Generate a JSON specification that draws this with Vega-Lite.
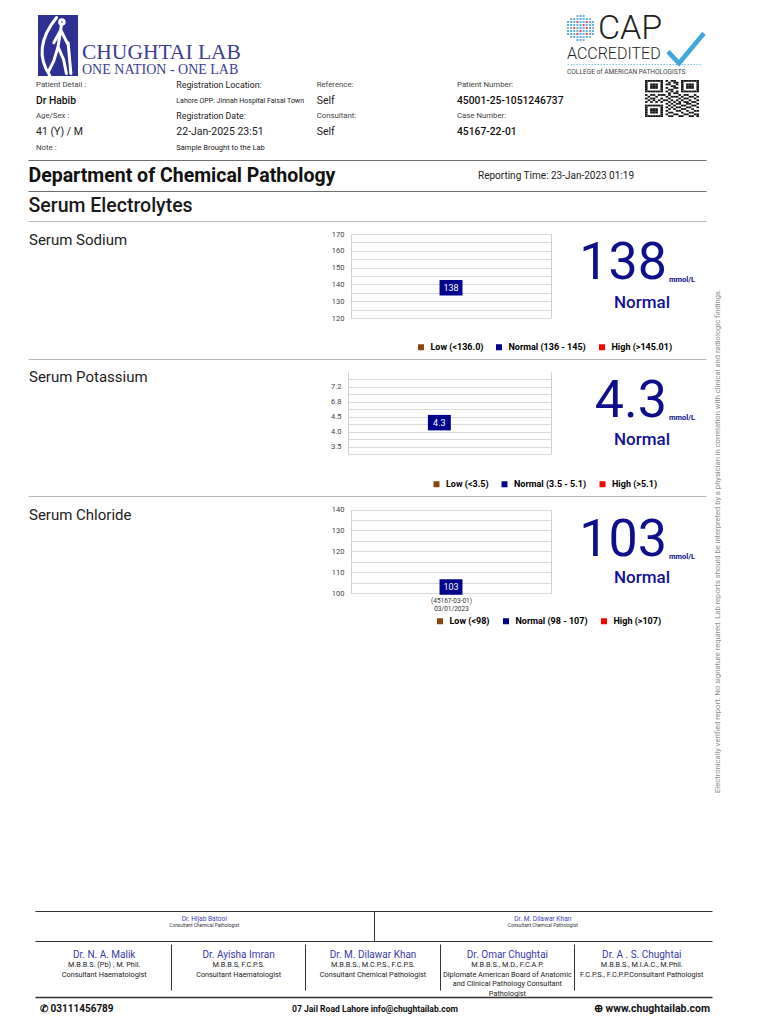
{
"$schema": "https://vega.github.io/schema/vega-lite/v6.json",
"width": 768, "height": 1024, "padding": 0,
"autosize": {"type": "none"},
"background": "white",
"config": {"font": "Roboto", "view": {"stroke": null}, "text": {"font": "Roboto"}, "scale": {"pointPadding": 0}, "axis": {"labelFont": "Roboto"}, "legend": {"labelFont": "Roboto"}},
"datasets": {
 "results": [
  {"test": "Serum Sodium", "sample": "(45167-03-01)|03/01/2023", "value": 138, "unit": "mmol/L", "status": "Normal", "band": "Normal (136 - 145)"},
  {"test": "Serum Potassium", "sample": "(45167-03-01)|03/01/2023", "value": 4.3, "unit": "mmol/L", "status": "Normal", "band": "Normal (3.5 - 5.1)"},
  {"test": "Serum Chloride", "sample": "(45167-03-01)|03/01/2023", "value": 103, "unit": "mmol/L", "status": "Normal", "band": "Normal (98 - 107)"}
 ],
 "doctors": [
  {"doc": "Dr. N. A. Malik", "line": 1, "t": "Dr. N. A. Malik"},
  {"doc": "Dr. N. A. Malik", "line": 2, "t": "M.B.B.S. (Pb) , M. Phil."},
  {"doc": "Dr. N. A. Malik", "line": 3, "t": "Consultant Haematologist"},
  {"doc": "Dr. Ayisha Imran", "line": 1, "t": "Dr. Ayisha Imran"},
  {"doc": "Dr. Ayisha Imran", "line": 2, "t": "M.B.B.S, F.C.P.S."},
  {"doc": "Dr. Ayisha Imran", "line": 3, "t": "Consultant Haematologist"},
  {"doc": "Dr. M. Dilawar Khan", "line": 1, "t": "Dr. M. Dilawar Khan"},
  {"doc": "Dr. M. Dilawar Khan", "line": 2, "t": "M.B.B.S., M.C.P.S., F.C.P.S."},
  {"doc": "Dr. M. Dilawar Khan", "line": 3, "t": "Consultant Chemical Pathologist"},
  {"doc": "Dr. Omar Chughtai", "line": 1, "t": "Dr. Omar Chughtai"},
  {"doc": "Dr. Omar Chughtai", "line": 2, "t": "M.B.B.S., M.D., F.C.A.P."},
  {"doc": "Dr. Omar Chughtai", "line": 3, "t": "Diplomate American Board of Anatomic"},
  {"doc": "Dr. Omar Chughtai", "line": 4, "t": "and Clinical Pathology Consultant"},
  {"doc": "Dr. Omar Chughtai", "line": 5, "t": "Pathologist"},
  {"doc": "Dr. A . S. Chughtai", "line": 1, "t": "Dr. A . S. Chughtai"},
  {"doc": "Dr. A . S. Chughtai", "line": 2, "t": "M.B.B.S., M.I.A.C., M.Phil."},
  {"doc": "Dr. A . S. Chughtai", "line": 3, "t": "F.C.P.S., F.C.P.P.Consultant Pathologist"}
 ],
 "qr": [
  {"r":0,"c":[0,1,2,3,4,5,6,8,10,11,14,15,16,17,18,19,20]},
  {"r":1,"c":[0,6,9,11,12,14,20]},
  {"r":2,"c":[0,2,3,4,6,8,9,12,14,16,17,18,20]},
  {"r":3,"c":[0,2,3,4,6,10,11,14,16,17,18,20]},
  {"r":4,"c":[0,2,3,4,6,8,11,12,14,16,17,18,20]},
  {"r":5,"c":[0,6,9,10,14,20]},
  {"r":6,"c":[0,1,2,3,4,5,6,8,10,12,14,15,16,17,18,19,20]},
  {"r":7,"c":[9,11,12]},
  {"r":8,"c":[0,2,3,5,6,7,9,13,15,16,19]},
  {"r":9,"c":[1,4,8,10,11,12,14,17,18,20]},
  {"r":10,"c":[0,2,3,6,9,13,15,16,19]},
  {"r":11,"c":[1,3,5,7,8,10,12,14,17,20]},
  {"r":12,"c":[0,2,4,6,9,11,13,15,16,18,19]},
  {"r":13,"c":[8,10,12,13,16,17,20]},
  {"r":14,"c":[0,1,2,3,4,5,6,9,11,14,15,18,19]},
  {"r":15,"c":[0,6,8,10,12,13,16,17,20]},
  {"r":16,"c":[0,2,3,4,6,9,11,14,15,18]},
  {"r":17,"c":[0,2,3,4,6,8,12,13,16,19,20]},
  {"r":18,"c":[0,2,3,4,6,9,10,14,17,18]},
  {"r":19,"c":[0,6,8,11,12,15,16,19,20]},
  {"r":20,"c":[0,1,2,3,4,5,6,9,10,13,14,17,18,20]}
 ],
 "capdots": [
  {"r":0,"c":[4,5],"k":"b"},{"r":0,"c":[3],"k":"g"},
  {"r":1,"c":[2,3,4,5,6],"k":"b"},{"r":1,"c":[1,7],"k":"g"},
  {"r":2,"c":[0,1,2,4,5,7,8],"k":"b"},{"r":2,"c":[3,6],"k":"r"},
  {"r":3,"c":[0,1,2,3,4,6,7,8],"k":"b"},{"r":3,"c":[5],"k":"r"},
  {"r":4,"c":[1,3,4,5,7],"k":"b"},{"r":4,"c":[2,6],"k":"r"},{"r":4,"c":[0,8],"k":"g"},
  {"r":5,"c":[0,1,2,3,5,6,7,8],"k":"b"},{"r":5,"c":[4],"k":"r"},
  {"r":6,"c":[0,1,2,4,5,7,8],"k":"b"},{"r":6,"c":[3,6],"k":"r"},
  {"r":7,"c":[2,3,4,5,6],"k":"b"},{"r":7,"c":[1,7],"k":"g"},
  {"r":8,"c":[3,4],"k":"b"},{"r":8,"c":[5],"k":"g"}
 ]
},
"resolve": {"scale": {"x": "independent", "y": "independent", "color": "independent", "size": "independent"}, "axis": {"x": "independent", "y": "independent"}, "legend": {"color": "independent", "size": "independent"}},
"layer": [
 {
  "data": {"values": [{"brand": "Chughtai Lab"}]},
  "encoding": {
   "x": {"field": "brand", "type": "nominal", "scale": {"type": "band", "range": [38, 78], "paddingInner": 0, "paddingOuter": 0}, "axis": null},
   "y": {"field": "brand", "type": "nominal", "scale": {"type": "band", "range": [15, 76], "paddingInner": 0, "paddingOuter": 0}, "axis": null}
  },
  "layer": [
   {"mark": {"type": "rect", "color": "#2e3192"}},
   {"mark": {"type": "point", "shape": "M-0.05,-1Q-0.95,0.1 -0.29,1.08M0.22,-0.84A0.08,0.08 0 1 1 0.06,-0.84A0.08,0.08 0 1 1 0.22,-0.84M0.12,-0.72L0,0.05L0.2,0.5L0.3,1M0,0.05L-0.15,0.55L-0.35,0.95M0.1,-0.55L0.35,-0.05M0.1,-0.55L-0.15,-0.1M0.36,-0.1L0.46,1", "filled": false, "color": "white", "strokeWidth": 3, "size": 3136, "opacity": 1, "strokeCap": "round", "strokeJoin": "round"}}
  ]
 },
 {
  "data": {"values": [{"brand": "Chughtai Lab", "line": "name", "t": "CHUGHTAI LAB"}, {"brand": "Chughtai Lab", "line": "motto", "t": "ONE NATION - ONE LAB"}]},
  "encoding": {
   "text": {"field": "t"},
   "x": {"field": "brand", "type": "nominal", "scale": {"range": [82, 82]}, "axis": null},
   "y": {"field": "line", "type": "nominal", "scale": {"domain": ["name", "motto"], "range": [58.5, 73.5]}, "axis": null}
  },
  "layer": [
   {"transform": [{"filter": "datum.line === 'name'"}], "mark": {"type": "text", "align": "left", "baseline": "alphabetic", "font": "Liberation Serif", "fontSize": 21.5, "color": "#3d3d95"}},
   {"transform": [{"filter": "datum.line === 'motto'"}], "mark": {"type": "text", "align": "left", "baseline": "alphabetic", "font": "Liberation Serif", "fontSize": 14, "color": "#3d3d95"}}
  ]
 },
 {
  "data": {"values": [{"org": "CAP"}]},
  "mark": {"type": "text", "align": "left", "baseline": "alphabetic", "fontSize": 34, "fontWeight": 300, "color": "#231f20"},
  "encoding": {
   "text": {"field": "org"},
   "x": {"field": "org", "type": "nominal", "scale": {"range": [598, 598]}, "axis": null},
   "y": {"field": "org", "type": "nominal", "scale": {"range": [39.3, 39.3]}, "axis": null}
  }
 },
 {
  "data": {"values": [{"org": "CAP", "line": "accredited", "t": "ACCREDITED"}, {"org": "CAP", "line": "college", "t": "COLLEGE of AMERICAN PATHOLOGISTS"}]},
  "encoding": {
   "text": {"field": "t"},
   "x": {"field": "org", "type": "nominal", "scale": {"range": [567, 567]}, "axis": null},
   "y": {"field": "line", "type": "nominal", "scale": {"domain": ["accredited", "college"], "range": [59.2, 73.8]}, "axis": null}
  },
  "layer": [
   {"transform": [{"filter": "datum.line === 'accredited'"}], "mark": {"type": "text", "align": "left", "baseline": "alphabetic", "fontSize": 16, "fontWeight": 300, "color": "#231f20"}},
   {"transform": [{"filter": "datum.line === 'college'"}], "mark": {"type": "text", "align": "left", "baseline": "alphabetic", "fontSize": 6.6, "color": "#444"}}
  ]
 },
 {
  "data": {"values": [{"org": "CAP"}]},
  "mark": {"type": "point", "shape": "M-1,0.2L-0.39,0.85L1,-0.82", "filled": false, "color": "#3ea8dc", "strokeWidth": 4.5, "size": 1296, "opacity": 1},
  "encoding": {
   "x": {"field": "org", "type": "nominal", "scale": {"range": [686, 686]}, "axis": null},
   "y": {"field": "org", "type": "nominal", "scale": {"range": [48, 48]}, "axis": null}
  }
 },
 {
  "data": {"name": "capdots"},
  "transform": [{"flatten": ["c"]}],
  "mark": {"type": "rect"},
  "encoding": {
   "x": {"field": "c", "type": "ordinal", "scale": {"type": "band", "domain": [0,1,2,3,4,5,6,7,8], "range": [567, 594], "paddingInner": 0.35, "paddingOuter": 0}, "axis": null},
   "y": {"field": "r", "type": "ordinal", "scale": {"type": "band", "domain": [0,1,2,3,4,5,6,7,8], "range": [15, 41], "paddingInner": 0.35, "paddingOuter": 0}, "axis": null},
   "color": {"field": "k", "type": "nominal", "scale": {"domain": ["b", "r", "g"], "range": ["#5bb3df", "#e04a4f", "#a3acb8"]}, "legend": null}
  }
 },
 {
  "data": {"values": [{"org": "CAP", "edge": "left"}]},
  "mark": {"type": "point", "opacity": 0, "size": 1},
  "encoding": {
   "x": {"field": "edge", "type": "nominal", "scale": {"domain": ["left", "right"], "range": [567, 702]}, "axis": null},
   "y": {"field": "org", "type": "nominal", "scale": {"range": [64, 64]}, "axis": {"orient": "left", "grid": true, "gridColor": "#7cc3e6", "gridDash": [1.5, 1.5], "labels": false, "ticks": false, "domain": false, "title": null}}
  }
 },
 {
  "data": {"name": "qr"},
  "transform": [{"flatten": ["c"]}],
  "mark": {"type": "rect", "color": "#111"},
  "encoding": {
   "x": {"field": "c", "type": "ordinal", "scale": {"type": "band", "domain": [0,1,2,3,4,5,6,7,8,9,10,11,12,13,14,15,16,17,18,19,20], "range": [645, 699], "paddingInner": 0, "paddingOuter": 0}, "axis": null},
   "y": {"field": "r", "type": "ordinal", "scale": {"type": "band", "domain": [0,1,2,3,4,5,6,7,8,9,10,11,12,13,14,15,16,17,18,19,20], "range": [80, 117], "paddingInner": 0, "paddingOuter": 0}, "axis": null}
  }
 },
 {
  "data": {"values": [
   {"col": "Patient", "line": 1, "role": "label", "t": "Patient Detail :"},
   {"col": "Patient", "line": 2, "role": "value", "t": "Dr Habib"},
   {"col": "Patient", "line": 3, "role": "label", "t": "Age/Sex :"},
   {"col": "Patient", "line": 4, "role": "date", "t": "41 (Y) / M"},
   {"col": "Patient", "line": 5, "role": "label", "t": "Note :"},
   {"col": "Registration", "line": 1, "role": "heading", "t": "Registration Location:"},
   {"col": "Registration", "line": 2, "role": "small", "t": "Lahore OPP: Jinnah Hospital Faisal Town"},
   {"col": "Registration", "line": 3, "role": "heading", "t": "Registration Date:"},
   {"col": "Registration", "line": 4, "role": "date", "t": "22-Jan-2025 23:51"},
   {"col": "Registration", "line": 5, "role": "note", "t": "Sample Brought to the Lab"},
   {"col": "Reference", "line": 1, "role": "label", "t": "Reference:"},
   {"col": "Reference", "line": 2, "role": "date", "t": "Self"},
   {"col": "Reference", "line": 3, "role": "label", "t": "Consultant:"},
   {"col": "Reference", "line": 4, "role": "date", "t": "Self"},
   {"col": "Number", "line": 1, "role": "label", "t": "Patient Number:"},
   {"col": "Number", "line": 2, "role": "value", "t": "45001-25-1051246737"},
   {"col": "Number", "line": 3, "role": "label", "t": "Case Number:"},
   {"col": "Number", "line": 4, "role": "value", "t": "45167-22-01"}
  ]},
  "encoding": {
   "text": {"field": "t"},
   "x": {"field": "col", "type": "nominal", "scale": {"domain": ["Patient", "Registration", "Reference", "Number"], "range": [36, 457]}, "axis": null},
   "y": {"field": "line", "type": "ordinal", "scale": {"domain": [1, 2, 3, 4, 5], "range": [85, 147.5]}, "axis": null}
  },
  "layer": [
   {"transform": [{"filter": "datum.role === 'label'"}], "mark": {"type": "text", "align": "left", "baseline": "middle", "fontSize": 7.8, "color": "#444"}},
   {"transform": [{"filter": "datum.role === 'heading'"}], "mark": {"type": "text", "align": "left", "baseline": "middle", "fontSize": 8.8, "color": "#222"}},
   {"transform": [{"filter": "datum.role === 'small'"}], "mark": {"type": "text", "align": "left", "baseline": "middle", "fontSize": 7, "color": "#222"}},
   {"transform": [{"filter": "datum.role === 'value'"}], "mark": {"type": "text", "align": "left", "baseline": "middle", "fontSize": 10.3, "fontWeight": 500, "color": "#111"}},
   {"transform": [{"filter": "datum.role === 'date'"}], "mark": {"type": "text", "align": "left", "baseline": "middle", "fontSize": 10.5, "color": "#222"}},
   {"transform": [{"filter": "datum.role === 'note'"}], "mark": {"type": "text", "align": "left", "baseline": "middle", "fontSize": 7.5, "color": "#222"}}
  ]
 },
 {
  "data": {"values": [{"rule": "header", "edge": "left"}, {"rule": "department", "edge": "left"}]},
  "mark": {"type": "point", "opacity": 0, "size": 1},
  "encoding": {
   "x": {"field": "edge", "type": "nominal", "scale": {"domain": ["left", "right"], "range": [28, 706]}, "axis": null},
   "y": {"field": "rule", "type": "nominal", "scale": {"domain": ["header", "department"], "range": [160, 191]}, "axis": {"orient": "left", "grid": true, "gridColor": "#6e6e6e", "labels": false, "ticks": false, "domain": false, "title": null}}
  }
 },
 {
  "data": {"values": [{"k": "Department of Chemical Pathology"}]},
  "mark": {"type": "text", "align": "left", "baseline": "alphabetic", "fontSize": 19.5, "fontWeight": "bold", "color": "#111"},
  "encoding": {
   "text": {"field": "k"},
   "x": {"field": "k", "type": "nominal", "scale": {"range": [28.5, 28.5]}, "axis": null},
   "y": {"field": "k", "type": "nominal", "scale": {"range": [181.5, 181.5]}, "axis": null}
  }
 },
 {
  "data": {"values": [{"k": "Reporting Time:  23-Jan-2023 01:19"}]},
  "mark": {"type": "text", "align": "left", "baseline": "alphabetic", "fontSize": 10, "color": "#222"},
  "encoding": {
   "text": {"field": "k"},
   "x": {"field": "k", "type": "nominal", "scale": {"range": [478, 478]}, "axis": null},
   "y": {"field": "k", "type": "nominal", "scale": {"range": [178.5, 178.5]}, "axis": null}
  }
 },
 {
  "data": {"values": [{"k": "Serum Electrolytes"}]},
  "mark": {"type": "text", "align": "left", "baseline": "alphabetic", "fontSize": 19.5, "fontWeight": 500, "color": "#1a1a1a"},
  "encoding": {
   "text": {"field": "k"},
   "x": {"field": "k", "type": "nominal", "scale": {"range": [28.5, 28.5]}, "axis": null},
   "y": {"field": "k", "type": "nominal", "scale": {"range": [211.5, 211.5]}, "axis": null}
  }
 },
 {
  "data": {"values": [{"rule": "electrolytes", "edge": "left"}, {"rule": "sodium", "edge": "left"}, {"rule": "potassium", "edge": "left"}]},
  "mark": {"type": "point", "opacity": 0, "size": 1},
  "encoding": {
   "x": {"field": "edge", "type": "nominal", "scale": {"domain": ["left", "right"], "range": [28, 706]}, "axis": null},
   "y": {"field": "rule", "type": "nominal", "scale": {"domain": ["electrolytes", "sodium", "potassium"], "range": [221, 496]}, "axis": {"orient": "left", "grid": true, "gridColor": "#b8b8b8", "labels": false, "ticks": false, "domain": false, "title": null}}
  }
 },
 {
  "data": {"name": "results"},
  "mark": {"type": "text", "align": "left", "baseline": "alphabetic", "fontSize": 15, "color": "#222"},
  "encoding": {
   "text": {"field": "test"},
   "x": {"field": "unit", "type": "nominal", "scale": {"range": [29, 29]}, "axis": null},
   "y": {"field": "test", "type": "nominal", "scale": {"domain": ["Serum Sodium", "Serum Potassium", "Serum Chloride"], "range": [244.5, 520]}, "axis": null}
  }
 },
 {
  "data": {"name": "results"},
  "transform": [{"filter": "datum.test === 'Serum Sodium'"}],
  "encoding": {
   "x": {"field": "sample", "type": "nominal", "scale": {"type": "point", "range": [351, 551]}, "axis": null}
  },
  "layer": [
   {
    "mark": {"type": "point", "shape": "M-1.48,-1H1.48V1H-1.48Z", "filled": true, "size": 240, "opacity": 1, "strokeWidth": 0},
    "encoding": {
     "y": {"field": "value", "type": "quantitative", "scale": {"domain": [120, 170], "range": [318, 234], "nice": false, "zero": false},
      "axis": {"orient": "left", "offset": -351, "values": [120,125,130,135,140,145,150,155,160,165,170], "labelExpr": "datum.value % 10 === 0 ? datum.label : ''", "grid": true, "gridColor": "#dadada", "domain": true, "domainColor": "#d0d0d0", "ticks": false, "tickSize": 0, "labelPadding": 7, "labelFontSize": 7.5, "labelColor": "#444", "title": null, "labelOverlap": false, "labelBound": false}},
     "color": {"field": "band", "type": "nominal", "scale": {"domain": ["Low (<136.0)", "Normal (136 - 145)", "High (>145.01)"], "range": ["#8b4513", "#00008b", "#ff0000"]},
      "legend": {"orient": "none", "legendX": 416.5, "legendY": 342.5, "direction": "horizontal", "title": null, "symbolType": "square", "symbolSize": 36, "symbolStrokeWidth": 0, "labelFontSize": 9, "labelFontWeight": "bold", "labelOffset": 5, "columnPadding": 11, "padding": 0,
       "encode": {"labels": {"update": {"fill": {"signal": "indexof(datum.label, 'Low') === 0 ? '#8b4513' : indexof(datum.label, 'High') === 0 ? '#ff0000' : '#00008b'"}}}}}}
    }
   },
   {
    "mark": {"type": "text", "color": "white", "fontSize": 9, "baseline": "middle", "align": "center"},
    "encoding": {
     "y": {"field": "value", "type": "quantitative", "scale": {"domain": [120, 170], "range": [318, 234], "nice": false, "zero": false},
      "axis": {"orient": "right", "offset": -217, "labels": false, "ticks": false, "grid": false, "domain": true, "domainColor": "#d0d0d0", "title": null}},
     "text": {"field": "value", "type": "quantitative"}
    }
   }
  ],
  "resolve": {"axis": {"y": "independent"}}
 },
 {
  "data": {"name": "results"},
  "transform": [{"filter": "datum.test === 'Serum Potassium'"}],
  "encoding": {
   "x": {"field": "sample", "type": "nominal", "scale": {"type": "point", "range": [348, 551], "align": 0.45}, "axis": null}
  },
  "layer": [
   {
    "mark": {"type": "point", "shape": "M-1.48,-1H1.48V1H-1.48Z", "filled": true, "size": 240, "opacity": 1, "strokeWidth": 0},
    "encoding": {
     "y": {"field": "value", "type": "quantitative", "scale": {"domain": [3.25, 3.5, 4, 4.5, 6.8, 7.2, 7.6], "range": [454, 446.5, 431.6, 416.7, 401.8, 386.9, 372], "nice": false, "zero": false},
      "axis": {"orient": "left", "offset": -348, "values": [3.25, 3.5, 3.75, 4, 4.25, 4.5, 5.65, 6.8, 7, 7.2, 7.4], "labelExpr": "indexof([3.5, 4, 4.5, 6.8, 7.2], datum.value) >= 0 ? format(datum.value, '.1f') : ''", "grid": true, "gridColor": "#dadada", "domain": true, "domainColor": "#d0d0d0", "ticks": false, "tickSize": 0, "labelPadding": 7, "labelFontSize": 7.5, "labelColor": "#444", "title": null, "labelOverlap": false, "labelBound": false}},
     "color": {"field": "band", "type": "nominal", "scale": {"domain": ["Low (<3.5)", "Normal (3.5 - 5.1)", "High (>5.1)"], "range": ["#8b4513", "#00008b", "#ff0000"]},
      "legend": {"orient": "none", "legendX": 432, "legendY": 479.5, "direction": "horizontal", "title": null, "symbolType": "square", "symbolSize": 36, "symbolStrokeWidth": 0, "labelFontSize": 9, "labelFontWeight": "bold", "labelOffset": 5, "columnPadding": 11, "padding": 0,
       "encode": {"labels": {"update": {"fill": {"signal": "indexof(datum.label, 'Low') === 0 ? '#8b4513' : indexof(datum.label, 'High') === 0 ? '#ff0000' : '#00008b'"}}}}}}
    }
   },
   {
    "mark": {"type": "text", "color": "white", "fontSize": 9, "baseline": "middle", "align": "center"},
    "encoding": {
     "y": {"field": "value", "type": "quantitative", "scale": {"domain": [3.25, 3.5, 4, 4.5, 6.8, 7.2, 7.6], "range": [454, 446.5, 431.6, 416.7, 401.8, 386.9, 372], "nice": false, "zero": false},
      "axis": {"orient": "right", "offset": -217, "labels": false, "ticks": false, "grid": false, "domain": true, "domainColor": "#d0d0d0", "title": null}},
     "text": {"field": "value", "type": "quantitative"}
    }
   }
  ],
  "resolve": {"axis": {"y": "independent"}}
 },
 {
  "data": {"name": "results"},
  "transform": [{"filter": "datum.test === 'Serum Chloride'"}],
  "encoding": {
   "x": {"field": "sample", "type": "nominal", "scale": {"type": "point", "range": [351, 551]},
    "axis": {"orient": "bottom", "offset": -430.7, "labelExpr": "split(datum.label, '|')", "labelFontSize": 6.5, "labelColor": "#333", "labelPadding": 4, "labelLineHeight": 8, "labelAngle": 0, "domain": false, "ticks": false, "tickSize": 0, "grid": false, "title": null, "labelBound": false}}
  },
  "layer": [
   {
    "mark": {"type": "point", "shape": "M-1.48,-1H1.48V1H-1.48Z", "filled": true, "size": 240, "opacity": 1, "strokeWidth": 0},
    "encoding": {
     "y": {"field": "value", "type": "quantitative", "scale": {"domain": [100, 140], "range": [593.3, 509.5], "nice": false, "zero": false},
      "axis": {"orient": "left", "offset": -351, "values": [100,105,110,115,120,125,130,135,140], "labelExpr": "datum.value % 10 === 0 ? datum.label : ''", "grid": true, "gridColor": "#dadada", "domain": true, "domainColor": "#d0d0d0", "ticks": false, "tickSize": 0, "labelPadding": 7, "labelFontSize": 7.5, "labelColor": "#444", "title": null, "labelOverlap": false, "labelBound": false}},
     "color": {"field": "band", "type": "nominal", "scale": {"domain": ["Low (<98)", "Normal (98 - 107)", "High (>107)"], "range": ["#8b4513", "#00008b", "#ff0000"]},
      "legend": {"orient": "none", "legendX": 435.5, "legendY": 616.5, "direction": "horizontal", "title": null, "symbolType": "square", "symbolSize": 36, "symbolStrokeWidth": 0, "labelFontSize": 9, "labelFontWeight": "bold", "labelOffset": 5, "columnPadding": 11, "padding": 0,
       "encode": {"labels": {"update": {"fill": {"signal": "indexof(datum.label, 'Low') === 0 ? '#8b4513' : indexof(datum.label, 'High') === 0 ? '#ff0000' : '#00008b'"}}}}}}
    }
   },
   {
    "mark": {"type": "text", "color": "white", "fontSize": 9, "baseline": "middle", "align": "center"},
    "encoding": {
     "y": {"field": "value", "type": "quantitative", "scale": {"domain": [100, 140], "range": [593.3, 509.5], "nice": false, "zero": false},
      "axis": {"orient": "right", "offset": -217, "labels": false, "ticks": false, "grid": false, "domain": true, "domainColor": "#d0d0d0", "title": null}},
     "text": {"field": "value", "type": "quantitative"}
    }
   }
  ],
  "resolve": {"axis": {"y": "independent"}}
 },
 {
  "data": {"name": "results"},
  "mark": {"type": "text", "align": "right", "baseline": "alphabetic", "fontSize": 52, "color": "#0f0f8c"},
  "encoding": {
   "text": {"field": "value", "type": "quantitative"},
   "x": {"field": "unit", "type": "nominal", "scale": {"range": [667, 667]}, "axis": null},
   "y": {"field": "test", "type": "nominal", "scale": {"domain": ["Serum Sodium", "Serum Potassium", "Serum Chloride"], "range": [278.5, 555.5]}, "axis": null}
  }
 },
 {
  "data": {"name": "results"},
  "mark": {"type": "text", "align": "left", "baseline": "alphabetic", "fontSize": 7.5, "fontWeight": "bold", "color": "#0f0f8c"},
  "encoding": {
   "text": {"field": "unit"},
   "x": {"field": "unit", "type": "nominal", "scale": {"range": [669, 669]}, "axis": null},
   "y": {"field": "test", "type": "nominal", "scale": {"domain": ["Serum Sodium", "Serum Potassium", "Serum Chloride"], "range": [282, 558.5]}, "axis": null}
  }
 },
 {
  "data": {"name": "results"},
  "mark": {"type": "text", "align": "center", "baseline": "alphabetic", "fontSize": 17, "fontWeight": 500, "color": "#12129a"},
  "encoding": {
   "text": {"field": "status"},
   "x": {"field": "unit", "type": "nominal", "scale": {"range": [642, 642]}, "axis": null},
   "y": {"field": "test", "type": "nominal", "scale": {"domain": ["Serum Sodium", "Serum Potassium", "Serum Chloride"], "range": [307.5, 582.5]}, "axis": null}
  }
 },
 {
  "data": {"values": [{"note": "Electronically verified report. No signature required. Lab reports should be interpreted by a physician in correlation with clinical and radiologic findings."}]},
  "mark": {"type": "text", "angle": 270, "align": "center", "baseline": "middle", "fontSize": 7.6, "color": "#8c8c8c"},
  "encoding": {
   "text": {"field": "note"},
   "x": {"field": "note", "type": "nominal", "scale": {"range": [718, 718]}, "axis": null},
   "y": {"field": "note", "type": "nominal", "scale": {"range": [541, 541]}, "axis": null}
  }
 },
 {
  "data": {"values": [{"rule": "above signatures", "edge": "left"}, {"rule": "below signatures", "edge": "left"}]},
  "mark": {"type": "point", "opacity": 0, "size": 1},
  "encoding": {
   "x": {"field": "edge", "type": "nominal", "scale": {"domain": ["left", "right"], "range": [35, 712]}, "axis": null},
   "y": {"field": "rule", "type": "nominal", "scale": {"domain": ["above signatures", "below signatures"], "range": [911, 941]}, "axis": {"orient": "left", "grid": true, "gridColor": "#333", "labels": false, "ticks": false, "domain": false, "title": null}}
  }
 },
 {
  "data": {"values": [{"rule": "contact", "edge": "left"}]},
  "mark": {"type": "point", "opacity": 0, "size": 1},
  "encoding": {
   "x": {"field": "edge", "type": "nominal", "scale": {"domain": ["left", "right"], "range": [35, 712]}, "axis": null},
   "y": {"field": "rule", "type": "nominal", "scale": {"range": [997, 997]}, "axis": {"orient": "left", "grid": true, "gridColor": "#333", "gridWidth": 1.5, "labels": false, "ticks": false, "domain": false, "title": null}}
  }
 },
 {
  "data": {"values": [{"boundary": "middle", "edge": "top"}]},
  "mark": {"type": "point", "opacity": 0, "size": 1},
  "encoding": {
   "x": {"field": "boundary", "type": "nominal", "scale": {"domain": ["left", "middle", "right"], "range": [35, 712]}, "axis": {"orient": "top", "values": ["middle"], "grid": true, "gridColor": "#333", "labels": false, "ticks": false, "domain": false, "title": null}},
   "y": {"field": "edge", "type": "nominal", "scale": {"domain": ["top", "bottom"], "range": [911, 941]}, "axis": null}
  }
 },
 {
  "data": {"values": [
   {"sig": "Dr. Hijab Batool", "line": "name", "t": "Dr. Hijab Batool"},
   {"sig": "Dr. Hijab Batool", "line": "title", "t": "Consultant Chemical Pathologist"},
   {"sig": "Dr. M. Dilawar Khan", "line": "name", "t": "Dr. M. Dilawar Khan"},
   {"sig": "Dr. M. Dilawar Khan", "line": "title", "t": "Consultant Chemical Pathologist"}
  ]},
  "encoding": {
   "text": {"field": "t"},
   "x": {"field": "sig", "type": "nominal", "scale": {"type": "band", "domain": ["Dr. Hijab Batool", "Dr. M. Dilawar Khan"], "range": [35, 712], "paddingInner": 0, "paddingOuter": 0}, "axis": null},
   "y": {"field": "line", "type": "nominal", "scale": {"domain": ["name", "title"], "range": [918.5, 926]}, "axis": null}
  },
  "layer": [
   {"transform": [{"filter": "datum.line === 'name'"}], "mark": {"type": "text", "align": "center", "baseline": "middle", "fontSize": 6.6, "color": "#4545b5"}},
   {"transform": [{"filter": "datum.line === 'title'"}], "mark": {"type": "text", "align": "center", "baseline": "middle", "fontSize": 4.8, "color": "#333"}}
  ]
 },
 {
  "data": {"values": [
   {"doc": "Dr. Ayisha Imran", "edge": "top"},
   {"doc": "Dr. M. Dilawar Khan", "edge": "top"},
   {"doc": "Dr. Omar Chughtai", "edge": "top"},
   {"doc": "Dr. A . S. Chughtai", "edge": "top"}
  ]},
  "mark": {"type": "point", "opacity": 0, "size": 1},
  "encoding": {
   "x": {"field": "doc", "type": "nominal", "scale": {"type": "band", "domain": ["Dr. N. A. Malik", "Dr. Ayisha Imran", "Dr. M. Dilawar Khan", "Dr. Omar Chughtai", "Dr. A . S. Chughtai"], "range": [37, 709], "paddingInner": 0, "paddingOuter": 0},
    "axis": {"orient": "top", "bandPosition": 0, "values": ["Dr. Ayisha Imran", "Dr. M. Dilawar Khan", "Dr. Omar Chughtai", "Dr. A . S. Chughtai"], "grid": true, "gridColor": "#333", "labels": false, "ticks": false, "domain": false, "title": null}},
   "y": {"field": "edge", "type": "nominal", "scale": {"domain": ["top", "bottom"], "range": [944, 990]}, "axis": null}
  }
 },
 {
  "data": {"name": "doctors"},
  "encoding": {
   "text": {"field": "t"},
   "x": {"field": "doc", "type": "nominal", "scale": {"type": "band", "domain": ["Dr. N. A. Malik", "Dr. Ayisha Imran", "Dr. M. Dilawar Khan", "Dr. Omar Chughtai", "Dr. A . S. Chughtai"], "range": [37, 709], "paddingInner": 0, "paddingOuter": 0}, "axis": null},
   "y": {"field": "line", "type": "ordinal", "scale": {"type": "point", "domain": [1, 2, 3, 4, 5], "range": [955, 994]}, "axis": null}
  },
  "layer": [
   {"transform": [{"filter": "datum.line === 1"}], "mark": {"type": "text", "align": "center", "baseline": "middle", "fontSize": 10, "color": "#3a3aaa"}},
   {"transform": [{"filter": "datum.line > 1"}], "mark": {"type": "text", "align": "center", "baseline": "middle", "fontSize": 7.3, "color": "#222"}}
  ]
 },
 {
  "data": {"values": [
   {"row": "contact", "item": "phone", "t": "✆ 03111456789"},
   {"row": "contact", "item": "address", "t": "07 Jail Road Lahore info@chughtailab.com"},
   {"row": "contact", "item": "web", "t": "⊕ www.chughtailab.com"}
  ]},
  "encoding": {
   "text": {"field": "t"},
   "x": {"field": "item", "type": "nominal", "scale": {"domain": ["phone", "address", "web"], "range": [40, 710]}, "axis": null},
   "y": {"field": "row", "type": "nominal", "scale": {"range": [1011.5, 1011.5]}, "axis": null}
  },
  "layer": [
   {"transform": [{"filter": "datum.item === 'phone'"}], "mark": {"type": "text", "align": "left", "baseline": "alphabetic", "fontSize": 10, "fontWeight": "bold", "color": "#111"}},
   {"transform": [{"filter": "datum.item === 'address'"}], "mark": {"type": "text", "align": "center", "baseline": "alphabetic", "fontSize": 8.6, "fontWeight": "bold", "color": "#111"}},
   {"transform": [{"filter": "datum.item === 'web'"}], "mark": {"type": "text", "align": "right", "baseline": "alphabetic", "fontSize": 10.5, "fontWeight": "bold", "color": "#111"}}
  ]
 }
]
}
